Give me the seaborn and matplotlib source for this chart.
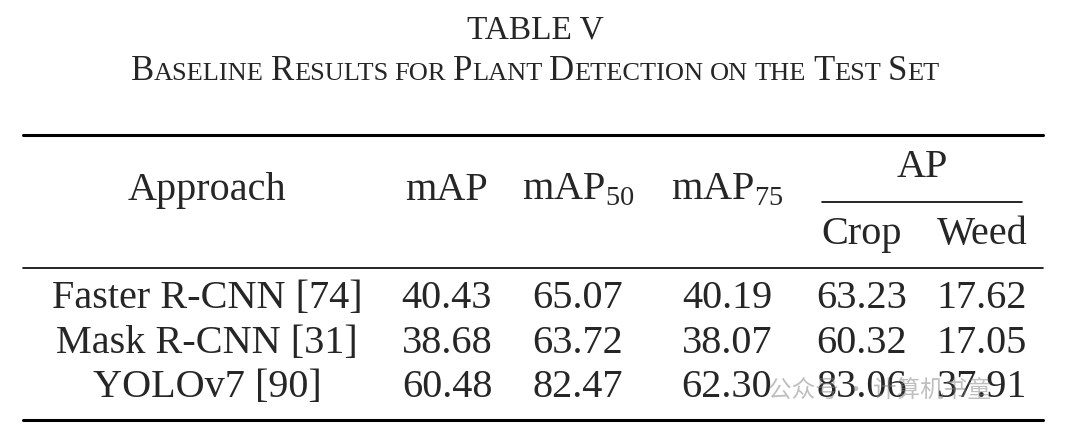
import numpy as np
import seaborn as sns
import matplotlib.pyplot as plt

sns.set_style('white')
plt.rcParams['font.family'] = ['Liberation Serif', 'DejaVu Serif']
plt.rcParams['mathtext.fontset'] = 'custom'
plt.rcParams['mathtext.rm'] = 'Liberation Serif'

approaches = ['Faster R-CNN [74]', 'Mask R-CNN [31]', 'YOLOv7 [90]']
mAP = [40.43, 38.68, 60.48]
mAP50 = [65.07, 63.72, 82.47]
mAP75 = [40.19, 38.07, 62.30]
ap_crop = [63.23, 60.32, 83.06]
ap_weed = [17.62, 17.05, 37.91]

fig = plt.figure(figsize=(10.8, 4.36), dpi=100)
ax = fig.add_axes([0, 0, 1, 1])
ax.set_xlim(0, 1080)
ax.set_ylim(436, 0)
ax.axis('off')

fs = 29
ax.text(535, 30, 'TABLE V', ha='center', va='center', fontsize=24)

# small caps subtitle
sub = 'Baseline Results for Plant Detection on the Test Set'
fig.canvas.draw()
r = fig.canvas.get_renderer()
pieces = []
for w in sub.split(' '):
    if w[0].isupper():
        pieces.append((w[0], 25))
        if len(w) > 1:
            pieces.append((w[1:].upper(), 19))
    else:
        pieces.append((w.upper(), 19))
    pieces.append((' ', 19))
pieces = pieces[:-1]
widths = []
for s, size in pieces:
    t = ax.text(0, 0, s.replace(' ', '\u00a0'), fontsize=size)
    widths.append(t.get_window_extent(r).width)
    t.remove()
x = 535 - sum(widths) / 2
for (s, size), w in zip(pieces, widths):
    ax.text(x, 80, s.replace(' ', '\u00a0'), fontsize=size, va='baseline')
    x += w

# rules
ax.plot([23, 1043], [135, 135], color='black', lw=2.2)
ax.plot([23, 1043], [268, 268], color='black', lw=1.2)
ax.plot([23, 1043], [420, 420], color='black', lw=2.2)
ax.plot([822, 1022], [202, 202], color='black', lw=1.2)

cols = [447, 578, 727, 862, 982]
ax.text(207, 190, 'Approach', ha='center', va='center', fontsize=fs)
ax.text(cols[0], 190, 'mAP', ha='center', va='center', fontsize=fs)
ax.text(cols[1], 190, r'mAP$_{\mathrm{50}}$', ha='center', va='center', fontsize=fs)
ax.text(cols[2], 190, r'mAP$_{\mathrm{75}}$', ha='center', va='center', fontsize=fs)
ax.text(922, 167, 'AP', ha='center', va='center', fontsize=fs)
ax.text(cols[3], 234, 'Crop', ha='center', va='center', fontsize=fs)
ax.text(cols[4], 234, 'Weed', ha='center', va='center', fontsize=fs)

rows_y = [298, 343, 387]
for i, y in enumerate(rows_y):
    ax.text(207, y, approaches[i], ha='center', va='center', fontsize=fs)
    for c, vals in zip(cols, [mAP, mAP50, mAP75, ap_crop, ap_weed]):
        ax.text(c, y, f'{vals[i]:.2f}', ha='center', va='center', fontsize=fs)

# watermark
ax.text(880, 390, '公众号 · 计算机书童', ha='center', va='center', fontsize=17,
        color='gray', alpha=0.5, family=['Noto Sans CJK SC', 'DejaVu Sans'])

fig.savefig('out.png', dpi=100)
